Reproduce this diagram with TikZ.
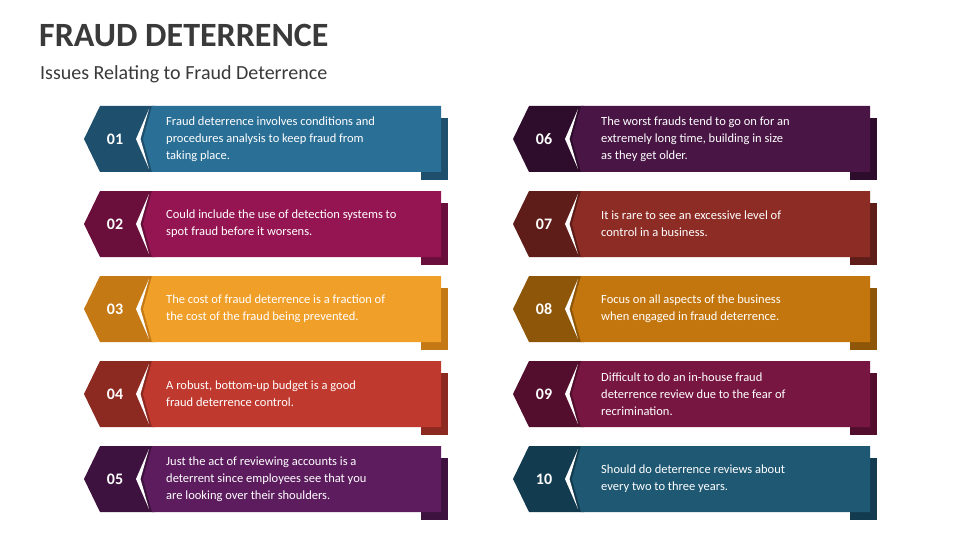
\documentclass[tikz,border=0pt]{standalone}
\usepackage{fontspec}
\setmainfont{Carlito}
\definecolor{m1}{HTML}{2A6F96}\definecolor{d1}{HTML}{1E4F6C}
\definecolor{m2}{HTML}{951552}\definecolor{d2}{HTML}{6A0F3B}
\definecolor{m3}{HTML}{F09F29}\definecolor{d3}{HTML}{C57914}
\definecolor{m4}{HTML}{C0392E}\definecolor{d4}{HTML}{8C2920}
\definecolor{m5}{HTML}{5C1C5E}\definecolor{d5}{HTML}{3D123E}
\definecolor{m6}{HTML}{481545}\definecolor{d6}{HTML}{2E0D2C}
\definecolor{m7}{HTML}{8C2C25}\definecolor{d7}{HTML}{5E1D18}
\definecolor{m8}{HTML}{C4760E}\definecolor{d8}{HTML}{8E5608}
\definecolor{m9}{HTML}{771641}\definecolor{d9}{HTML}{520E2C}
\definecolor{m10}{HTML}{1F5873}\definecolor{d10}{HTML}{133B4F}
\definecolor{titlegray}{HTML}{3A3A3A}
\tikzset{bodytxt/.style={anchor=west,align=left,text=white,font=\fontsize{12.5}{17}\selectfont,inner sep=0pt},
numtxt/.style={text=white,font=\bfseries\fontsize{16}{16}\selectfont,inner sep=0pt}}
\newcommand{\fditem}[6]{% x offset, y center, main, dark, num, text
\begin{scope}[shift={(#1,#2)}]
\fill[#4] (421,-21) rectangle (448,41);
\fill[#4] (84,0) -- (100,-33) -- (155,-33) -- (155,33) -- (100,33) -- cycle;
\fill[#3] (152,-33) -- (441,-33) -- (441,33) -- (152,33) -- (143,0) -- cycle;
\fill[white] (149,-30) -- (136,0) -- (149,30) -- (140.5,0) -- cycle;
\node[numtxt] (n#5) at (115,0) {#5};
\node[bodytxt] (t#5) at (166+#1*0.0140,0) {#6};
\end{scope}}
\begin{document}
\begin{tikzpicture}[x=1pt,y=-1pt]
\useasboundingbox (0,0) rectangle (960,540);
\fill[white] (0,0) rectangle (960,540);
\node[anchor=base west,inner sep=0pt,text=titlegray,font=\bfseries\fontsize{34}{34}\selectfont] (title) at (39,47) {FRAUD DETERRENCE};
\node[anchor=base west,inner sep=0pt,text=titlegray,font=\fontsize{20}{20}\selectfont] (sub) at (40,80) {Issues Relating to Fraud Deterrence};
\fditem{0}{139}{m1}{d1}{01}{Fraud deterrence involves conditions and\\procedures analysis to keep fraud from\\taking place.}
\fditem{0}{224}{m2}{d2}{02}{Could include the use of detection systems to\\spot fraud before it worsens.}
\fditem{0}{309}{m3}{d3}{03}{The cost of fraud deterrence is a fraction of\\the cost of the fraud being prevented.}
\fditem{0}{394}{m4}{d4}{04}{A robust, bottom-up budget is a good\\fraud deterrence control.}
\fditem{0}{479}{m5}{d5}{05}{Just the act of reviewing accounts is a\\deterrent since employees see that you\\are looking over their shoulders.}
\fditem{429}{139}{m6}{d6}{06}{The worst frauds tend to go on for an\\extremely long time, building in size\\as they get older.}
\fditem{429}{224}{m7}{d7}{07}{It is rare to see an excessive level of\\control in a business.}
\fditem{429}{309}{m8}{d8}{08}{Focus on all aspects of the business\\when engaged in fraud deterrence.}
\fditem{429}{394}{m9}{d9}{09}{Difficult to do an in-house fraud\\deterrence review due to the fear of\\recrimination.}
\fditem{429}{479}{m10}{d10}{10}{Should do deterrence reviews about\\every two to three years.}
\end{tikzpicture}
\end{document}
